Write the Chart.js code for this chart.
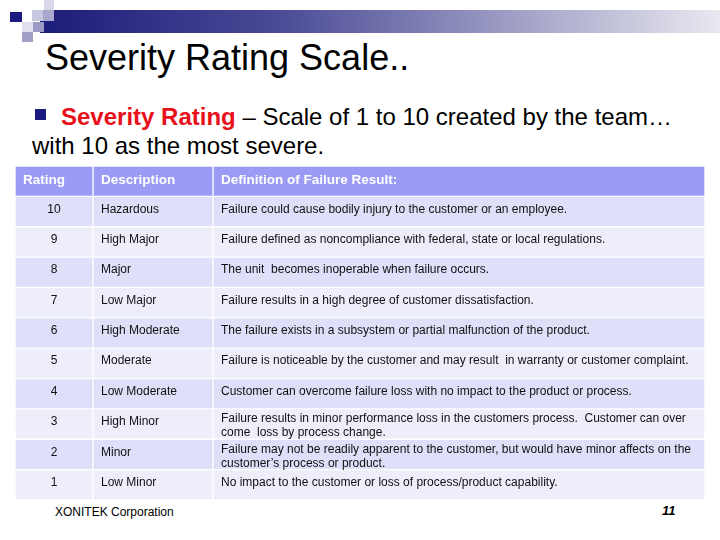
<!DOCTYPE html>
<html><head><meta charset="utf-8">
<script src="https://cdn.jsdelivr.net/npm/chart.js@4/dist/chart.umd.min.js"></script>
<style>
body{margin:0;width:720px;height:540px;background:#fff;position:relative;overflow:hidden;font-family:"Liberation Sans",Arial,sans-serif}
.band{position:absolute;left:40px;top:10px;width:680px;height:23px;background:linear-gradient(to right,#1c1c7a,#4a4a96 35%,#b8b8d4 80%,#e8e8f0)}
.sq{position:absolute}
#title{position:absolute;left:45px;top:37px;font-size:36px;color:#000}
#b1{position:absolute;left:35px;top:109px;width:11px;height:11px;background:#1a1a80}
#l1{position:absolute;left:61px;top:103px;font-size:24px}
#l2{position:absolute;left:32px;top:132px;font-size:24px}
#foot{position:absolute;left:55px;top:505px;font-size:12px}
#pg{position:absolute;left:662px;top:503px;font-size:13px;font-weight:bold;font-style:italic}
#wrap{position:absolute;left:15px;top:166px;width:690px;height:334px}
</style></head><body>
<div class="band"></div>
<div class="sq" style="left:10px;top:12px;width:12px;height:10px;background:#1a1a80"></div>
<div class="sq" style="left:32px;top:10px;width:11px;height:11px;background:#c8c8e0"></div>
<div class="sq" style="left:43px;top:10px;width:11px;height:11px;background:#a8a8cc"></div>
<div class="sq" style="left:22px;top:22px;width:11px;height:10px;background:#e0e0ee"></div>
<div class="sq" style="left:33px;top:22px;width:11px;height:10px;background:#9a9ac4"></div>
<div class="sq" style="left:22px;top:32px;width:11px;height:10px;background:#a0a0c8"></div>
<div class="sq" style="left:44px;top:0px;width:10px;height:10px;background:#d8d8e8"></div>
<div id="title">Severity Rating Scale..</div>
<div id="b1"></div>
<div id="l1"><b style="color:#e8101a">Severity Rating</b> – Scale of 1 to 10 created by the team…</div>
<div id="l2">with 10 as the most severe.</div>
<div id="wrap"><canvas id="c"></canvas></div>
<div id="foot">XONITEK Corporation</div>
<div id="pg">11</div>
<script>
const headers = ["Rating","Description","Definition of Failure Result:"];
const ratings = ["10","9","8","7","6","5","4","3","2","1"];
const descriptions = ["Hazardous","High Major","Major","Low Major","High Moderate","Moderate","Low Moderate","High Minor","Minor","Low Minor"];
const definitions = [
"Failure could cause bodily injury to the customer or an employee.",
"Failure defined as noncompliance with federal, state or local regulations.",
"The unit  becomes inoperable when failure occurs.",
"Failure results in a high degree of customer dissatisfaction.",
"The failure exists in a subsystem or partial malfunction of the product.",
"Failure is noticeable by the customer and may result  in warranty or customer complaint.",
"Customer can overcome failure loss with no impact to the product or process.",
"Failure results in minor performance loss in the customers process.  Customer can over\ncome  loss by process change.",
"Failure may not be readily apparent to the customer, but would have minor affects on the\ncustomer’s process or product.",
"No impact to the customer or loss of process/product capability."];
const colWidths = [78,120,492];

const rows = ["h"].concat(ratings);
const cols = [[headers[0]].concat(ratings),[headers[1]].concat(descriptions),[headers[2]].concat(definitions)];
const bg = rows.map((r,i)=> i===0 ? "#9b9bf5" : (i%2===1 ? "#dedff8" : "#eeeefb"));
const datasets = colWidths.map((w,ci)=>({data:rows.map(()=>w),backgroundColor:bg,borderColor:"#ffffff",borderWidth:{left:1,right:1,top:1,bottom:1},borderSkipped:false,barPercentage:1,categoryPercentage:1,texts:cols[ci]}));
const textPlugin={id:"txt",afterDatasetsDraw(ch){const ctx=ch.ctx;ctx.save();ctx.textBaseline="middle";
 ch.data.datasets.forEach((ds,di)=>{ch.getDatasetMeta(di).data.forEach((el,ri)=>{
  const left=Math.min(el.x,el.base),right=Math.max(el.x,el.base);
  const lines=String(ds.texts[ri]).split("\n");
  const hdr=ri===0;
  ctx.font=(hdr?"bold 13.5px ":"12px ")+'"Liberation Sans",Arial,sans-serif';
  ctx.fillStyle=hdr?"#ffffff":"#111111";
  const top=el.y-el.height/2;
  lines.forEach((ln,li)=>{const y=top+(hdr?14:(lines.length>1?10:13))+li*14;
   if(di===0&&!hdr){ctx.textAlign="center";ctx.fillText(ln,(left+right)/2,y);}
   else{ctx.textAlign="left";ctx.fillText(ln,left+8,y);}});
 });});ctx.restore();}};
new Chart(document.getElementById("c"),{type:"bar",data:{labels:rows,datasets},
 options:{indexAxis:"y",responsive:true,maintainAspectRatio:false,animation:false,
  layout:{padding:0},plugins:{legend:{display:false},tooltip:{enabled:false}},
  scales:{x:{stacked:true,display:false,min:0,max:690},y:{stacked:true,display:false}}},
 plugins:[textPlugin]});
</script></body></html>
